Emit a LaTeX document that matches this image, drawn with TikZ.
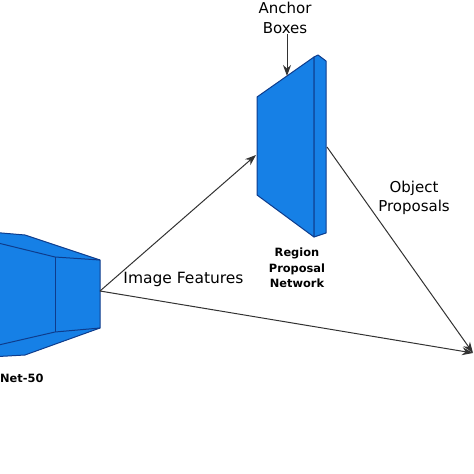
\documentclass[tikz,border=0pt]{standalone}
\usepackage{fontspec}
\setsansfont{DejaVu Sans}
\usetikzlibrary{arrows.meta,positioning}
\definecolor{netblue}{RGB}{22,128,230}
\definecolor{netedge}{RGB}{14,60,140}
\definecolor{linegray}{RGB}{50,50,50}
\tikzset{
  >={Stealth[length=11pt,width=8pt]},
  blk/.style ={fill=netblue, draw=netedge, line width=1pt, line join=round},
  rdg/.style ={draw=netedge, line width=1pt},
  conn/.style={->, draw=linegray, line width=1pt},
  tx/.style  ={font=\sffamily\fontsize{15}{19.5}\selectfont, align=center, inner sep=0pt},
  bx/.style  ={font=\sffamily\bfseries\fontsize{11.4}{15.5}\selectfont, align=center, inner sep=0pt}
}
\begin{document}
\begin{tikzpicture}[x=1pt,y=-1pt]
\useasboundingbox (0,0) rectangle (474,474);
\clip (0,0) rectangle (474,474);
% backbone, cut off at the left edge
\draw[blk] (-10,232) -- (25,235) -- (100,260) -- (100,328) -- (25,355) -- (-10,357) -- cycle;
\draw[rdg] (-10,241) -- (55,257) -- (100,260);
\draw[rdg] (55,257) -- (55,332);
\draw[rdg] (-10,347) -- (55,332) -- (100,328);
\node[bx, anchor=west] (reslbl) at (0,378) {Net-50};

% region proposal network
\draw[blk] (257,97) -- (314,57) -- (314,237) -- (257,195) -- cycle;
\draw[blk] (314,57) -- (318,55) -- (326,61) -- (326,233) -- (314,237) -- cycle;
\node[bx] (rpnlbl) at (297,268) {Region\\Proposal\\Network};

% labels
\node[tx] (anchor) at (285,18) {Anchor\\Boxes};
\node[tx] (objlbl) at (414,198) {Object\\Proposals};
\node[tx, font=\sffamily\fontsize{15.5}{19}\selectfont] (featlbl) at (183.5,279) {Image Features};

% connectors
\coordinate (featout) at (100,291);
\coordinate (rpnin)   at (256,155);
\coordinate (rpntop)  at (287,76);
\coordinate (rpnout)  at (327,147);
\coordinate (roi)     at (473,353);
\draw[conn] (rpntop |- anchor.south) -- (rpntop);
\draw[conn] (featout) -- (rpnin);
\draw[conn] (featout) -- (roi);
\draw[conn] (rpnout) -- (roi);
\end{tikzpicture}
\end{document}
